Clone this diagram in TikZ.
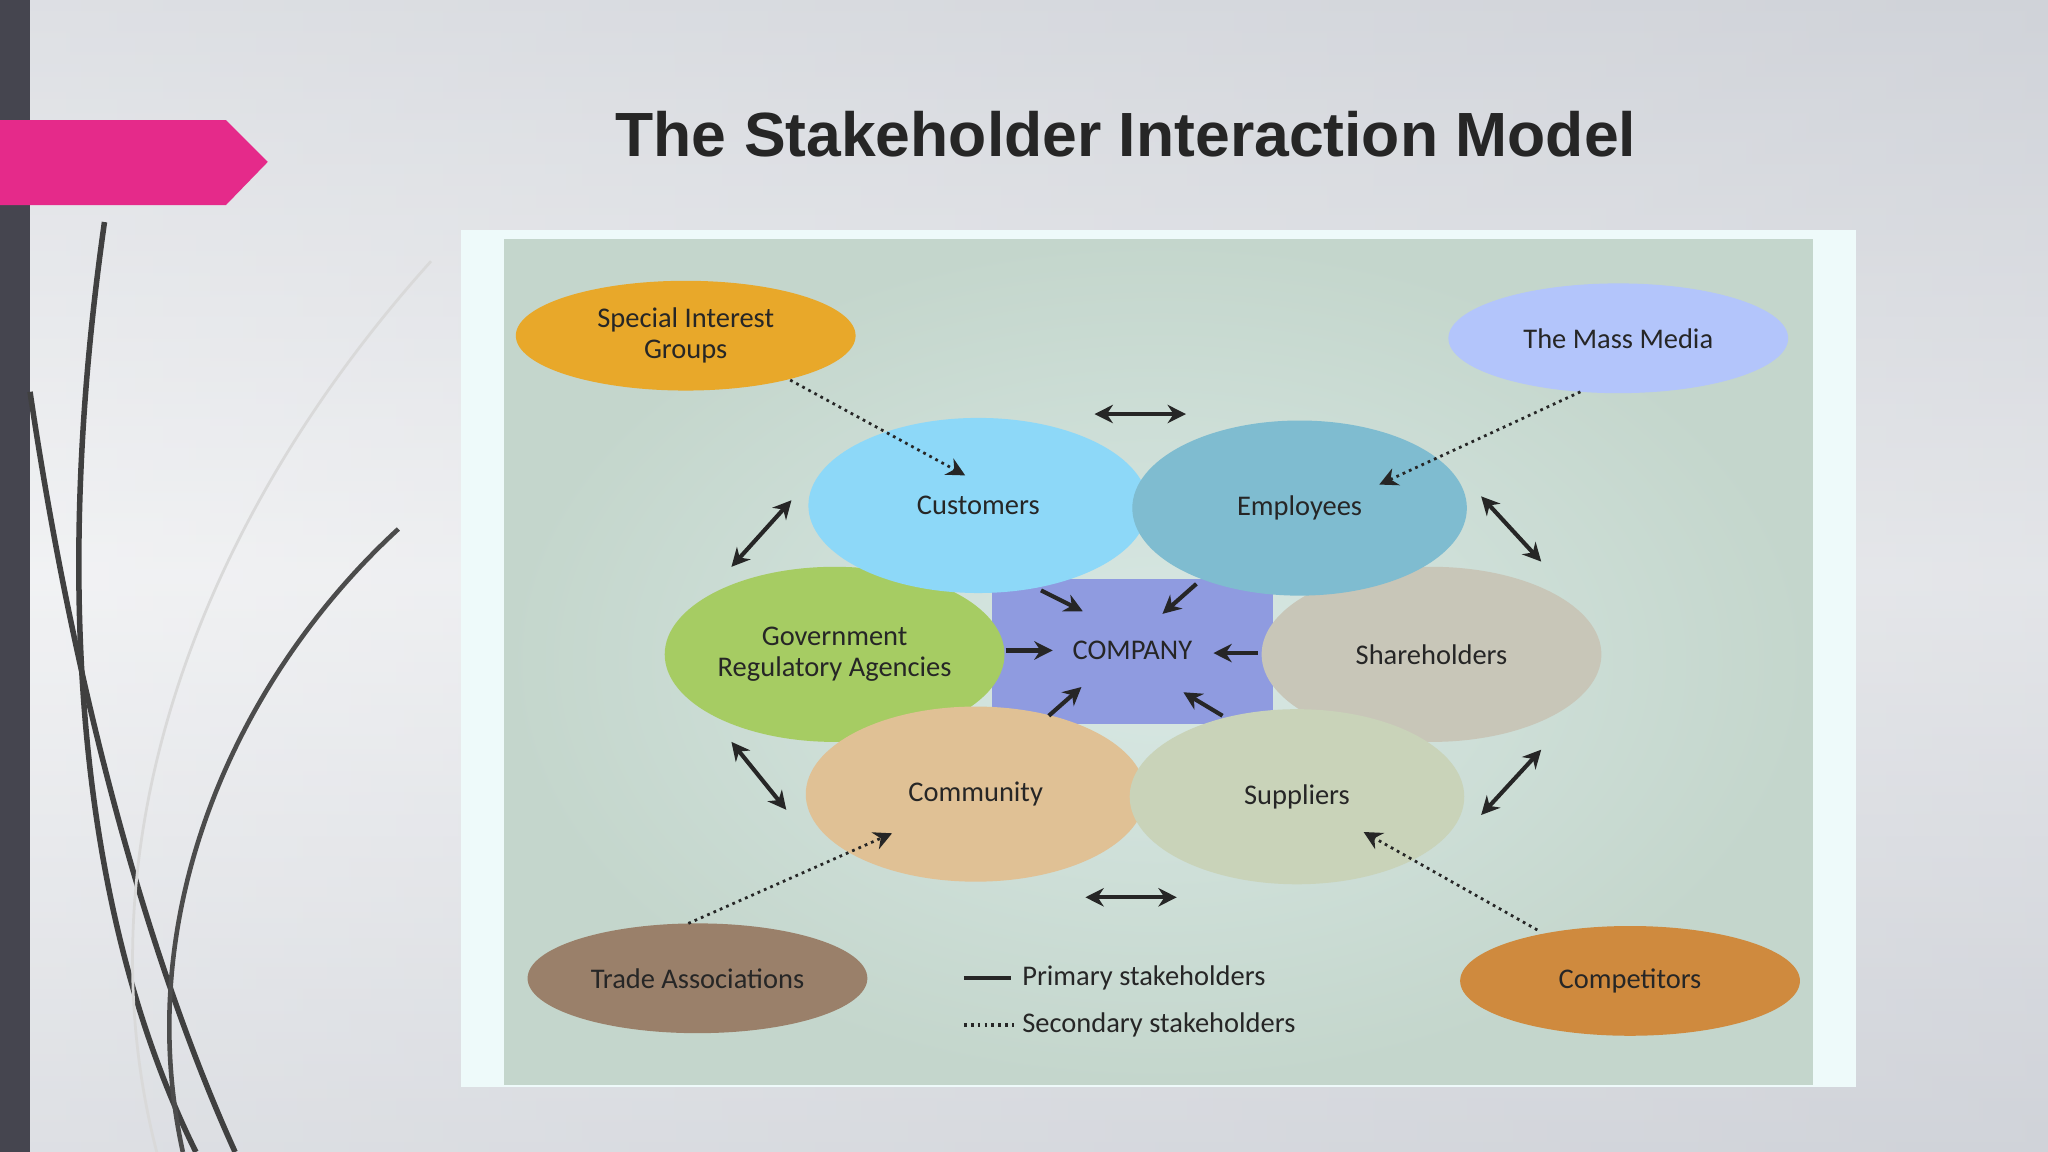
\documentclass[tikz,border=0pt]{standalone}
\usepackage{fontspec}
\setmainfont{Carlito}
\newfontfamily\titlefont{Liberation Sans}
\usetikzlibrary{shapes.geometric,arrows.meta}
\definecolor{bg}{RGB}{208,211,217}
\definecolor{bar}{RGB}{69,69,79}
\definecolor{pink}{RGB}{229,42,138}
\definecolor{ttl}{RGB}{38,38,38}
\definecolor{frm}{RGB}{238,250,250}
\definecolor{pin}{RGB}{216,232,228}
\definecolor{pout}{RGB}{196,214,204}
\definecolor{cco}{RGB}{143,155,224}
\definecolor{cgov}{RGB}{166,204,99}
\definecolor{csh}{RGB}{200,198,184}
\definecolor{ccu}{RGB}{141,216,248}
\definecolor{cem}{RGB}{127,188,208}
\definecolor{ccm}{RGB}{224,193,149}
\definecolor{csu}{RGB}{201,211,185}
\definecolor{csig}{RGB}{232,168,42}
\definecolor{cmm}{RGB}{179,197,251}
\definecolor{cta}{RGB}{154,128,106}
\definecolor{ccp}{RGB}{207,138,62}
\begin{document}
\begin{tikzpicture}[x=0.01cm,y=-0.01cm,
  el/.style={ellipse,draw=none,inner sep=0pt,align=center,font=\fontsize{6.2}{6.8}\selectfont,text=black!85},
  big/.style={el,minimum width=2.6cm,minimum height=1.34cm},
  small/.style={el,minimum width=2.6cm,minimum height=0.84cm},
  dbl/.style={{Stealth[length=4pt,width=4pt]}-{Stealth[length=4pt,width=4pt]},line width=0.9pt,black!85},
  sgl/.style={-{Stealth[length=4pt,width=4pt]},line width=0.9pt,black!85},
  dot/.style={-{Stealth[length=4pt,width=4pt]},line width=0.6pt,dash pattern=on 0.6pt off 0.9pt,black!85}]
\useasboundingbox (0,0) rectangle (1568,882);
\shade[left color=white,right color=bg] (0,0) rectangle (1568,882);
\shade[top color=bg,bottom color=bg,middle color=bg!40,opacity=0.7] (0,0) rectangle (1568,882);
\fill[bar] (0,0) rectangle (23,882);
\fill[pink] (0,92) -- (173,92) -- (205,124) -- (173,157) -- (0,157) -- cycle;
\draw[black!75,line width=1.2pt] (80,170) .. controls (40,450) and (60,700) .. (150,882);
\draw[black!75,line width=1.2pt] (23,300) .. controls (60,550) and (120,750) .. (180,882);
\draw[black!70,line width=1pt] (305,405) .. controls (180,520) and (100,700) .. (140,882);
\draw[black!15,line width=0.6pt] (330,200) .. controls (150,400) and (60,650) .. (120,882);
\node[font=\titlefont\bfseries\fontsize{13.6}{16}\selectfont,text=ttl] (title) at (862,103) {The Stakeholder Interaction Model};
\fill[frm] (353,176) rectangle (1421,832);
\shade[inner color=pin,outer color=pout] (386,183) rectangle (1388,830);
\node[draw=none,fill=cco,minimum width=2.15cm,minimum height=1.11cm,inner sep=0pt] (co) at (867,499) {};
\node[big,fill=cgov] (gov) at (639,501) {Government\\Regulatory Agencies};
\node[big,fill=csh] (sh) at (1096,501) {Shareholders};
\node[big,fill=ccu] (cu) at (749,387) {Customers};
\node[big,fill=cem,minimum width=2.56cm] (em) at (995,389) {Employees};
\node[big,fill=ccm] (cm) at (747,608) {Community};
\node[big,fill=csu,minimum width=2.56cm] (su) at (993,610) {Suppliers};
\node[font=\fontsize{6.2}{7.2}\selectfont,text=black!85] (colab) at (867,498) {COMPANY};
\node[small,fill=csig] (sig) at (525,257) {Special Interest\\Groups};
\node[small,fill=cmm] (mm) at (1239,259) {The Mass Media};
\node[small,fill=cta] (ta) at (534,749) {Trade Associations};
\node[small,fill=ccp] (cp) at (1248,751) {Competitors};
\foreach \n/\x/\y in {a1/838/317,a2/908/317,b1/560/434,b2/606/383,c1/1134/380,c2/1180/430,d1/560/568,d2/602/620,e1/1134/624,e2/1180/574,f1/831/687,f2/901/687,
 g1/797/452,g2/829/468,h1/916/447,h2/890/470,i1/770/498,i2/806/498,j1/963/500,j2/929/500,k1/803/548,k2/828/526,l1/936/548,l2/906/530,
 m1/605/291,m2/739/364,n1/1210/300,n2/1056/371,o1/527/707,o2/683/638,p1/1177/712,p2/1044/637,q1/738/749,q2/774/749,r1/738/785,r2/776/785}
 {\coordinate (\n) at (\x,\y);}
\draw[dbl] (a1)--(a2); \draw[dbl] (b1)--(b2); \draw[dbl] (c1)--(c2);
\draw[dbl] (d1)--(d2); \draw[dbl] (e1)--(e2); \draw[dbl] (f1)--(f2);
\foreach \s in {g,h,i,j,k,l} \draw[sgl] (\s1)--(\s2);
\foreach \s in {m,n,o,p} \draw[dot] (\s1)--(\s2);
\draw[line width=0.9pt,black!85] (q1)--(q2);
\draw[line width=0.8pt,black!85,dash pattern=on 0.6pt off 0.9pt] (r1)--(r2);
\node[anchor=west,font=\fontsize{6.2}{7.2}\selectfont,text=black!85,inner sep=0pt] (lp) at (782,749) {Primary stakeholders};
\node[anchor=west,font=\fontsize{6.2}{7.2}\selectfont,text=black!85,inner sep=0pt] (ls) at (782,785) {Secondary stakeholders};
\end{tikzpicture}
\end{document}
